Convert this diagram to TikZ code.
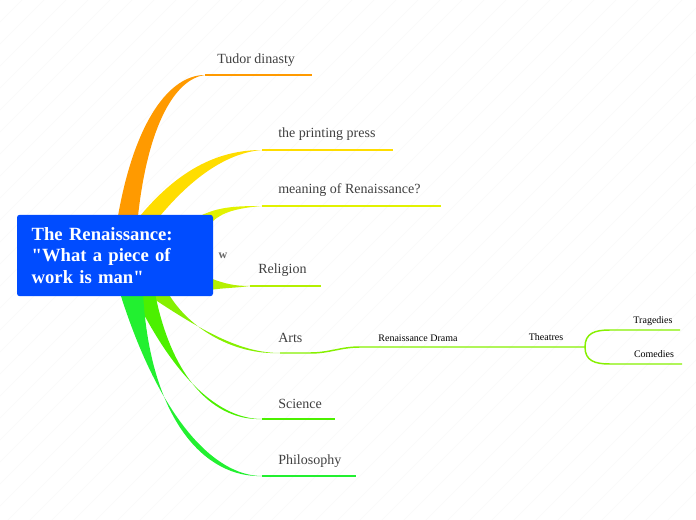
\documentclass[tikz,border=0pt]{standalone}
\usepackage{fontspec}
\setmainfont{Liberation Serif}[Ligatures=TeXOff]
\begin{document}
\begin{tikzpicture}[x=0.75pt,y=-0.75pt,
  lbl/.style={font=\fontsize{10.5}{12}\selectfont,text=black!75,anchor=base west,inner sep=0pt},
  small/.style={font=\fontsize{7.5}{9}\selectfont,text=black,anchor=base,inner sep=0pt},
  uline/.style={line width=1.1pt}]
\useasboundingbox (0,0) rectangle (696,520);
\fill[white] (0,0) rectangle (696,520);
\foreach \i in {0,22,...,1200} \draw[black!2.5,line width=0.3pt] (\i,0) -- (\i-520,520);
\definecolor{cTu}{HTML}{FF9A00}\definecolor{cPr}{HTML}{FFDD00}\definecolor{cMe}{HTML}{E2F200}
\definecolor{cRe}{HTML}{B4F000}\definecolor{cAr}{HTML}{86F000}\definecolor{cSc}{HTML}{4CF000}\definecolor{cPh}{HTML}{22F030}
\fill[cTu] (118,216) .. controls (135,120) and (170,75) .. (205,75) .. controls (175,79) and (148,125) .. (138,216) -- cycle;
\fill[cPr] (140,216) .. controls (180,168) and (220,150) .. (262,150) .. controls (225,153) and (190,180) .. (160,216) -- cycle;
\fill[cMe] (200,216) .. controls (218,207) and (235,206) .. (262,206) .. controls (238,208) and (222,212) .. (212,222) -- cycle;
\fill[cRe] (210,278) .. controls (225,284) and (235,286) .. (250,286) .. controls (235,288) and (222,288) .. (210,290) -- cycle;
\fill[cAr] (145,293) .. controls (200,330) and (240,353) .. (280,353) .. controls (235,355) and (190,330) .. (168,293) -- cycle;
\fill[cSc] (133,293) .. controls (175,380) and (220,419) .. (262,419) .. controls (215,421) and (172,380) .. (155,293) -- cycle;
\fill[cPh] (120,293) .. controls (160,420) and (215,476) .. (262,476) .. controls (205,478) and (150,420) .. (143,293) -- cycle;
\node[fill={rgb,255:red,0;green,76;blue,255},rounded corners=2pt,minimum width=147pt,minimum height=61pt,
  text=white,font=\fontsize{14}{16}\selectfont\bfseries,align=left,text width=125pt,inner sep=0pt]
  (root) at (115,255.5) {The Renaissance:\\"What a piece of\\work is man"};
\node[font=\fontsize{9}{10}\selectfont\bfseries,text=black!60] (w) at (223,256) {w};
\draw[uline,cTu] (205,75) -- (312,75);
\node[lbl] (tudor) at (217,64) {Tudor dinasty};
\draw[uline,cPr] (262,150) -- (393,150);
\node[lbl] (press) at (278,138) {the printing press};
\draw[uline,cMe] (262,206) -- (441,206);
\node[lbl] (mean) at (278,194) {meaning of Renaissance?};
\draw[uline,cRe] (250,286) -- (321,286);
\node[lbl] (rel) at (258,274) {Religion};
\draw[uline,cAr] (280,353) -- (310,353) .. controls (330,353) and (340,347) .. (360,347) -- (585,347);
\node[lbl] (arts) at (278,342) {Arts};
\node[small] (drama) at (418,341) {Renaissance Drama};
\node[small] (theat) at (546,340) {Theatres};
\draw[uline,cAr] (585,347) .. controls (585,333) and (595,330) .. (610,330) -- (680,330);
\draw[uline,cAr] (585,347) .. controls (585,361) and (595,364) .. (610,364) -- (682,364);
\node[small] (trag) at (653,324) {Tragedies};
\node[small] (com) at (654,357) {Comedies};
\draw[uline,cSc] (262,419) -- (335,419);
\node[lbl] (sci) at (278,408) {Science};
\draw[uline,cPh] (262,476) -- (356,476);
\node[lbl] (phil) at (278,464) {Philosophy};
\end{tikzpicture}
\end{document}
